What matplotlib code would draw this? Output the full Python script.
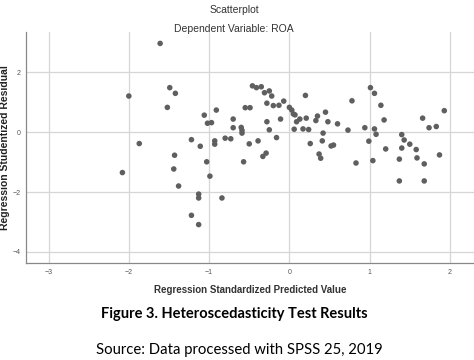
import matplotlib.pyplot as plt

# standardized predicted value (x) and studentized residual (y)
pred = [-1.61, -2.00, -1.49, -1.42, -1.52, -0.46, -0.41, -0.35, -0.31, -0.25,
        -0.22, -0.28, -0.20, -0.13, -0.07, 0.00, 0.03, 0.05, 0.07, 0.20,
        0.13, 0.09, 0.21, 0.35, 0.33, 0.45, 0.48, 0.60, 0.78, 0.73,
        0.94, 1.01, 1.06, 1.14, 1.18, 1.06, 1.66, 1.74, 1.83, 1.93,
        -1.06, -0.91, -1.02, -0.97, -0.70, -0.55, -0.49, -0.28, -0.11, -0.70,
        -0.60, -0.25, 0.06, 0.17, 0.24,
        -2.08, -1.87, -1.43, -1.44, -1.38, -1.22, -1.11, -1.03, -0.99, -1.22,
        -1.13, -1.13, -1.13, -0.84, -0.93, -0.93, -0.80, -0.73, -0.59, -0.59,
        -0.57, -0.50, -0.39, -0.33, -0.29, -0.16, 0.26, 0.37, 0.39, 0.41,
        0.42, 0.52, 0.55, 0.83, 0.99, 1.04, 1.08, 1.20, 1.37, 1.37,
        1.40, 1.43, 1.40, 1.50, 1.58, 1.59, 1.68, 1.68, 1.87]
resid = [2.97, 1.21, 1.49, 1.30, 0.83, 1.55, 1.49, 1.52, 1.32, 1.38,
         1.21, 0.97, 0.89, 0.90, 1.04, 0.83, 0.74, 0.61, 0.58, 1.23,
         0.44, 0.35, 0.47, 0.54, 0.39, 0.67, 0.35, 0.28, 1.05, 0.07,
         0.15, 1.49, 1.30, 0.90, 0.41, 0.11, 0.47, 0.15, 0.19, 0.72,
         0.57, 0.74, 0.30, 0.32, 0.44, 0.82, 0.82, 0.35, 0.44, 0.15,
         0.16, 0.08, 0.10, 0.11, 0.09,
         -1.35, -0.38, -0.77, -1.23, -1.80, -0.25, -0.47, -0.99, -1.47, -2.78,
         -3.09, -2.07, -2.20, -2.20, -0.29, -0.40, -0.20, -0.22, 0.06, -0.03,
         -0.99, -0.39, -0.29, -0.81, -0.70, -0.18, -0.38, -0.73, -0.87, -0.29,
         -0.03, -0.46, -0.43, -1.03, -0.30, -0.95, -0.07, -0.56, -0.90, -1.63,
         -0.08, -0.26, -0.53, -0.40, -0.58, -0.86, -1.06, -1.63, -0.76]

x_ticks = [-3, -2, -1, 0, 1, 2]
y_ticks = [-4, -2, 0, 2]

plt.rcParams['font.family'] = ['Liberation Sans', 'DejaVu Sans']

fig = plt.figure(figsize=(4.74, 3.6), dpi=100)
ax = fig.add_axes([0.055, 0.269, 0.945, 0.642])

ax.scatter(pred, resid, s=16, color='#5f5f5f', edgecolors='none', zorder=3)

ax.set_xlim(-3.28, 2.3)
ax.set_ylim(-4.38, 3.35)
ax.set_xticks(x_ticks)
ax.set_yticks(y_ticks)
ax.tick_params(labelsize=5, colors='#555555', length=0, pad=4)
ax.grid(True, color='#d6d6d6', linewidth=0.9, zorder=0)
for side in ['top', 'right']:
    ax.spines[side].set_visible(False)
for side in ['left', 'bottom']:
    ax.spines[side].set_color('#888888')
    ax.spines[side].set_linewidth(0.9)

ax.set_xlabel("Regression Standardized Predicted Value", fontsize=7, fontweight='bold',
              color='#333333', labelpad=7)
ax.set_ylabel("Regression Studentized Residual", fontsize=7.5, fontweight='bold',
              color='#222222', labelpad=2)

fig.text(0.494, 0.986, "Scatterplot", ha='center', va='top', fontsize=7.5, color='#333333')
fig.text(0.494, 0.933, "Dependent Variable: ROA", ha='center', va='top', fontsize=7.5,
         color='#333333')

fig.text(0.494, 0.128, "Figure 3. Heteroscedasticity Test Results", ha='center',
         va='center', fontsize=10.5, fontweight='bold', family=['Lato', 'DejaVu Sans'])
fig.text(0.504, 0.028, "Source: Data processed with SPSS 25, 2019", ha='center',
         va='center', fontsize=10.7, family=['Lato', 'DejaVu Sans'])

fig.savefig('out.png', dpi=100)
